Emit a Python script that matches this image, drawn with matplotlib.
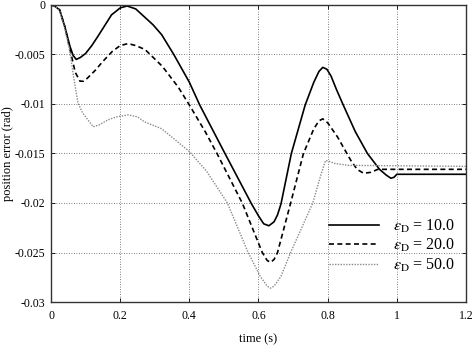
import numpy as np
import matplotlib.pyplot as plt

plt.rcParams['font.family'] = 'Liberation Serif'
plt.rcParams['mathtext.fontset'] = 'stix'

# position error traces for three values of eps_D
t_10 = [0, 0.01, 0.025, 0.04, 0.055, 0.064, 0.073, 0.085, 0.1, 0.118, 0.135, 0.155,
        0.175, 0.2, 0.22, 0.245, 0.27, 0.295, 0.32, 0.355, 0.4, 0.43, 0.5, 0.58,
        0.6, 0.615, 0.63, 0.645, 0.655, 0.665, 0.695, 0.735, 0.76, 0.775, 0.786,
        0.798, 0.81, 0.825, 0.845, 0.88, 0.915, 0.95, 0.97, 0.983, 0.992, 1.0,
        1.05, 1.2]
e_10 = [0, -0.0001, -0.0005, -0.0022, -0.0042, -0.0051, -0.0055, -0.0053, -0.0049,
        -0.0041, -0.0032, -0.0021, -0.001, -0.0003, -0.0001, -0.0004, -0.0012,
        -0.002, -0.003, -0.005, -0.0078, -0.0101, -0.0148, -0.0201, -0.0213,
        -0.0221, -0.0223, -0.0219, -0.0212, -0.0201, -0.015, -0.0101, -0.0078,
        -0.0067, -0.0063, -0.0065, -0.0072, -0.0085, -0.0101, -0.0128, -0.015,
        -0.0166, -0.0172, -0.0175, -0.0174, -0.0171, -0.0171, -0.0171]

t_20 = [0, 0.01, 0.025, 0.04, 0.055, 0.07, 0.084, 0.094, 0.105, 0.128, 0.15, 0.177,
        0.2, 0.223, 0.245, 0.272, 0.322, 0.368, 0.4, 0.446, 0.48, 0.553, 0.611,
        0.625, 0.635, 0.645, 0.655, 0.693, 0.73, 0.76, 0.775, 0.786, 0.8, 0.828,
        0.867, 0.885, 0.904, 0.925, 0.945, 1.2]
e_20 = [0, -0.0001, -0.0005, -0.0022, -0.0045, -0.0068, -0.0077, -0.0077, -0.0074,
        -0.0066, -0.0057, -0.0047, -0.0041, -0.0039, -0.0041, -0.0045, -0.0062,
        -0.0083, -0.0101, -0.0128, -0.015, -0.02, -0.025, -0.0258, -0.026, -0.0257,
        -0.025, -0.02, -0.015, -0.0125, -0.0117, -0.0115, -0.0119, -0.0133, -0.0157,
        -0.0166, -0.017, -0.0169, -0.0166, -0.0166]

t_50 = [0, 0.01, 0.025, 0.04, 0.055, 0.065, 0.078, 0.09, 0.1, 0.122, 0.14, 0.165,
        0.19, 0.223, 0.25, 0.27, 0.32, 0.4, 0.45, 0.51, 0.57, 0.605, 0.625, 0.635,
        0.645, 0.665, 0.693, 0.725, 0.757, 0.78, 0.794, 0.805, 0.82, 0.86, 1.2]
e_50 = [0, -0.0001, -0.0006, -0.0024, -0.0048, -0.0072, -0.0099, -0.0108, -0.0113,
        -0.0123, -0.0121, -0.0116, -0.0113, -0.0111, -0.0113, -0.0118, -0.0125,
        -0.0148, -0.0168, -0.02, -0.025, -0.0274, -0.0284, -0.0286, -0.0284, -0.0274,
        -0.025, -0.0225, -0.02, -0.0172, -0.0157, -0.0158, -0.016, -0.0162, -0.0163]

labels = [r'$\varepsilon_{\rm D}$ = 10.0', r'$\varepsilon_{\rm D}$ = 20.0',
          r'$\varepsilon_{\rm D}$ = 50.0']

fig = plt.figure(figsize=(4.74, 3.45), dpi=100)
ax = fig.add_axes([0.1076, 0.1246, 0.8755, 0.861])

ax.plot(t_10, e_10, color='black', lw=1.2, ls='-', label=labels[0])
ax.plot(t_20, e_20, color='black', lw=1.2, ls=(0, (3, 2)), label=labels[1])
ax.plot(t_50, e_50, color='#8a8a8a', lw=1.0, ls=(0, (1, 1)), label=labels[2])

ax.set_xlim(0, 1.2)
ax.set_ylim(-0.03, 0)
ax.set_xticks([0, 0.2, 0.4, 0.6, 0.8, 1, 1.2])
ax.set_xticklabels(['0', '0.2', '0.4', '0.6', '0.8', '1', '1.2'])
ax.set_yticks([0, -0.005, -0.01, -0.015, -0.02, -0.025, -0.03])
ax.set_yticklabels(['0', '-0.005', '-0.01', '-0.015', '-0.02', '-0.025', '-0.03'])
ax.tick_params(direction='in', length=3, width=0.6, labelsize=8.5,
               top=True, right=True, pad=4)
ax.tick_params(axis='x', pad=6)
ax.grid(True, color='#555555', ls=(0, (1, 2)), lw=0.6)
for s in ax.spines.values():
    s.set_linewidth(1.0)
    s.set_color('#333333')

ax.set_xlabel('time (s)', fontsize=9)
ax.set_ylabel('position error (rad)', fontsize=9)
ax.xaxis.set_label_coords(0.5, -0.105)
ax.yaxis.set_label_coords(-0.09, 0.5)

leg = ax.legend(loc='center left', bbox_to_anchor=(0.67, 0.19), frameon=False,
                fontsize=11.5, handlelength=3.1, handletextpad=0.9,
                labelspacing=0.15, borderaxespad=0, borderpad=0)

fig.savefig('out.png', dpi=100)
